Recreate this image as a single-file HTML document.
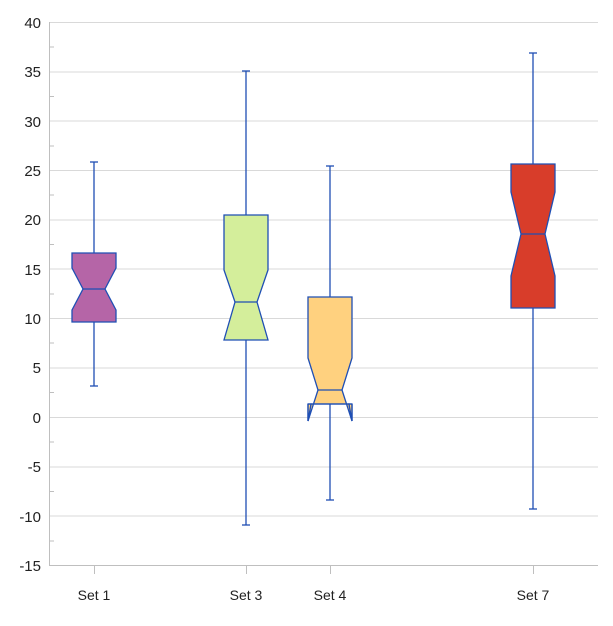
<!DOCTYPE html>
<html><head><style>body{margin:0;background:#fff}</style></head><body>
<svg width="613" height="621" xmlns="http://www.w3.org/2000/svg" font-family="Liberation Sans, sans-serif">
<rect width="613" height="621" fill="#fff"/>
<g stroke="#d9d9d9" stroke-width="1">
<line x1="49" x2="598" y1="22.5" y2="22.5"/><line x1="49" x2="598" y1="72" y2="72"/><line x1="49" x2="598" y1="121" y2="121"/><line x1="49" x2="598" y1="170.5" y2="170.5"/><line x1="49" x2="598" y1="220" y2="220"/><line x1="49" x2="598" y1="269" y2="269"/><line x1="49" x2="598" y1="318.5" y2="318.5"/><line x1="49" x2="598" y1="368" y2="368"/><line x1="49" x2="598" y1="417.5" y2="417.5"/><line x1="49" x2="598" y1="467" y2="467"/><line x1="49" x2="598" y1="516" y2="516"/>
</g>
<g stroke="#bfbfbf" stroke-width="1">
<line x1="49.5" x2="49.5" y1="22" y2="566"/>
<line x1="49" x2="598" y1="565.5" y2="565.5"/>
<line x1="49" x2="54" y1="47" y2="47"/><line x1="49" x2="54" y1="96.5" y2="96.5"/><line x1="49" x2="54" y1="146" y2="146"/><line x1="49" x2="54" y1="195" y2="195"/><line x1="49" x2="54" y1="244.5" y2="244.5"/><line x1="49" x2="54" y1="294" y2="294"/><line x1="49" x2="54" y1="343" y2="343"/><line x1="49" x2="54" y1="392.5" y2="392.5"/><line x1="49" x2="54" y1="442" y2="442"/><line x1="49" x2="54" y1="491.5" y2="491.5"/><line x1="49" x2="54" y1="541" y2="541"/>
<line x1="94.5" x2="94.5" y1="565" y2="574"/><line x1="246.5" x2="246.5" y1="565" y2="574"/><line x1="330.5" x2="330.5" y1="565" y2="574"/><line x1="533.5" x2="533.5" y1="565" y2="574"/>
</g>
<g font-size="15" fill="#222" text-anchor="end">
<text x="41" y="28">40</text><text x="41" y="77">35</text><text x="41" y="127">30</text><text x="41" y="176">25</text><text x="41" y="225">20</text><text x="41" y="275">15</text><text x="41" y="324">10</text><text x="41" y="373">5</text><text x="41" y="423">0</text><text x="41" y="472">-5</text><text x="41" y="522">-10</text><text x="41" y="571">-15</text>
</g>
<g font-size="14" fill="#222" text-anchor="middle">
<text x="94" y="600">Set 1</text><text x="246" y="600">Set 3</text><text x="330" y="600">Set 4</text><text x="533" y="600">Set 7</text>
</g>
<g stroke="#1f4fb4" stroke-width="1.3">
<line x1="94" x2="94" y1="162" y2="386"/><line x1="90" x2="98" y1="162" y2="162"/><line x1="90" x2="98" y1="386" y2="386"/>
<line x1="246" x2="246" y1="71" y2="525"/><line x1="242" x2="250" y1="71" y2="71"/><line x1="242" x2="250" y1="525" y2="525"/>
<line x1="330" x2="330" y1="166" y2="500"/><line x1="326" x2="334" y1="166" y2="166"/><line x1="326" x2="334" y1="500" y2="500"/>
<line x1="533" x2="533" y1="53" y2="509"/><line x1="529" x2="537" y1="53" y2="53"/><line x1="529" x2="537" y1="509" y2="509"/>
<polygon fill="#b565a7" points="72,253 116,253 116,268 105,289 116,310 116,322 72,322 72,310 83,289 72,268"/>
<line x1="83" x2="105" y1="289" y2="289"/>
<polygon fill="#d4ee9b" points="224,215 268,215 268,270 257,302 268,340 224,340 235,302 224,270"/>
<line x1="235" x2="257" y1="302" y2="302"/>
<polygon fill="#ffd17f" points="308,297 352,297 352,358 342,390 352,421 349,404 311,404 308,421 318,390 308,358"/>
<polygon fill="#ffd17f" points="308,404 311,404 308,421"/><polygon fill="#ffd17f" points="352,404 349,404 352,421"/>
<line x1="318" x2="342" y1="390" y2="390"/><line x1="308" x2="352" y1="404" y2="404"/><line x1="308" x2="308" y1="404" y2="421"/><line x1="352" x2="352" y1="404" y2="421"/>
<polygon fill="#d83d2a" points="511,164 555,164 555,192 545,234 555,276 555,308 511,308 511,276 521,234 511,192"/>
<line x1="521" x2="545" y1="234" y2="234"/>
</g>
<polygon fill="#b565a7" stroke="#1f4fb4" stroke-width="1.3" points="72,253 72,268 83,289 72,310 72,322 116,322 116,310 105,289 116,268 116,253" opacity="0"/>
</svg>
<script></script>
</body></html>
